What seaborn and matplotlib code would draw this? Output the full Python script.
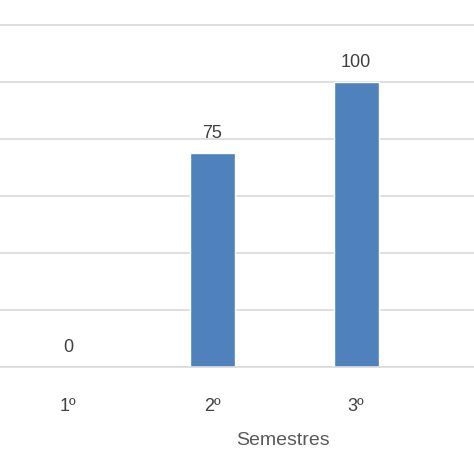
import matplotlib
matplotlib.use("Agg")
import matplotlib.pyplot as plt
import seaborn as sns

categories = ["1º", "2º", "3º"]
values = [0, 75, 100]

sns.set_style("white")
plt.rcParams['font.family'] = ['Liberation Sans', 'DejaVu Sans']

fig = plt.figure(figsize=(4.74, 4.74), dpi=100)
ax = fig.add_axes([0, 1 - 367/474, 1, 367/474])
sns.barplot(x=categories, y=values, color="#4f81bd", width=45/144, ax=ax, saturation=1)
x0 = -68/144
ax.set_xlim(x0, x0 + 474/144)
ax.set_ylim(0, 367/2.85)
ax.set_yticks([0, 20, 40, 60, 80, 100, 120])
ax.yaxis.grid(True, color="#d9d9d9", linewidth=1.2)
ax.set_axisbelow(True)
ax.tick_params(axis='y', left=False, labelleft=False)
ax.tick_params(axis='x', length=0, labelsize=13, colors="#404040", pad=22)
for s in ["top", "right", "left"]:
    ax.spines[s].set_visible(False)
ax.spines["bottom"].set_color("#d9d9d9")
ax.spines["bottom"].set_linewidth(1.2)
for c in ax.containers:
    ax.bar_label(c, labels=[str(v) for v in values], padding=8, fontsize=13, color="#404040")
ax.set_ylabel("")
ax.set_xlabel("Semestres", fontsize=14, color="#595959")
ax.xaxis.set_label_coords(283/474, -0.177)
fig.savefig("out.png", dpi=100)
